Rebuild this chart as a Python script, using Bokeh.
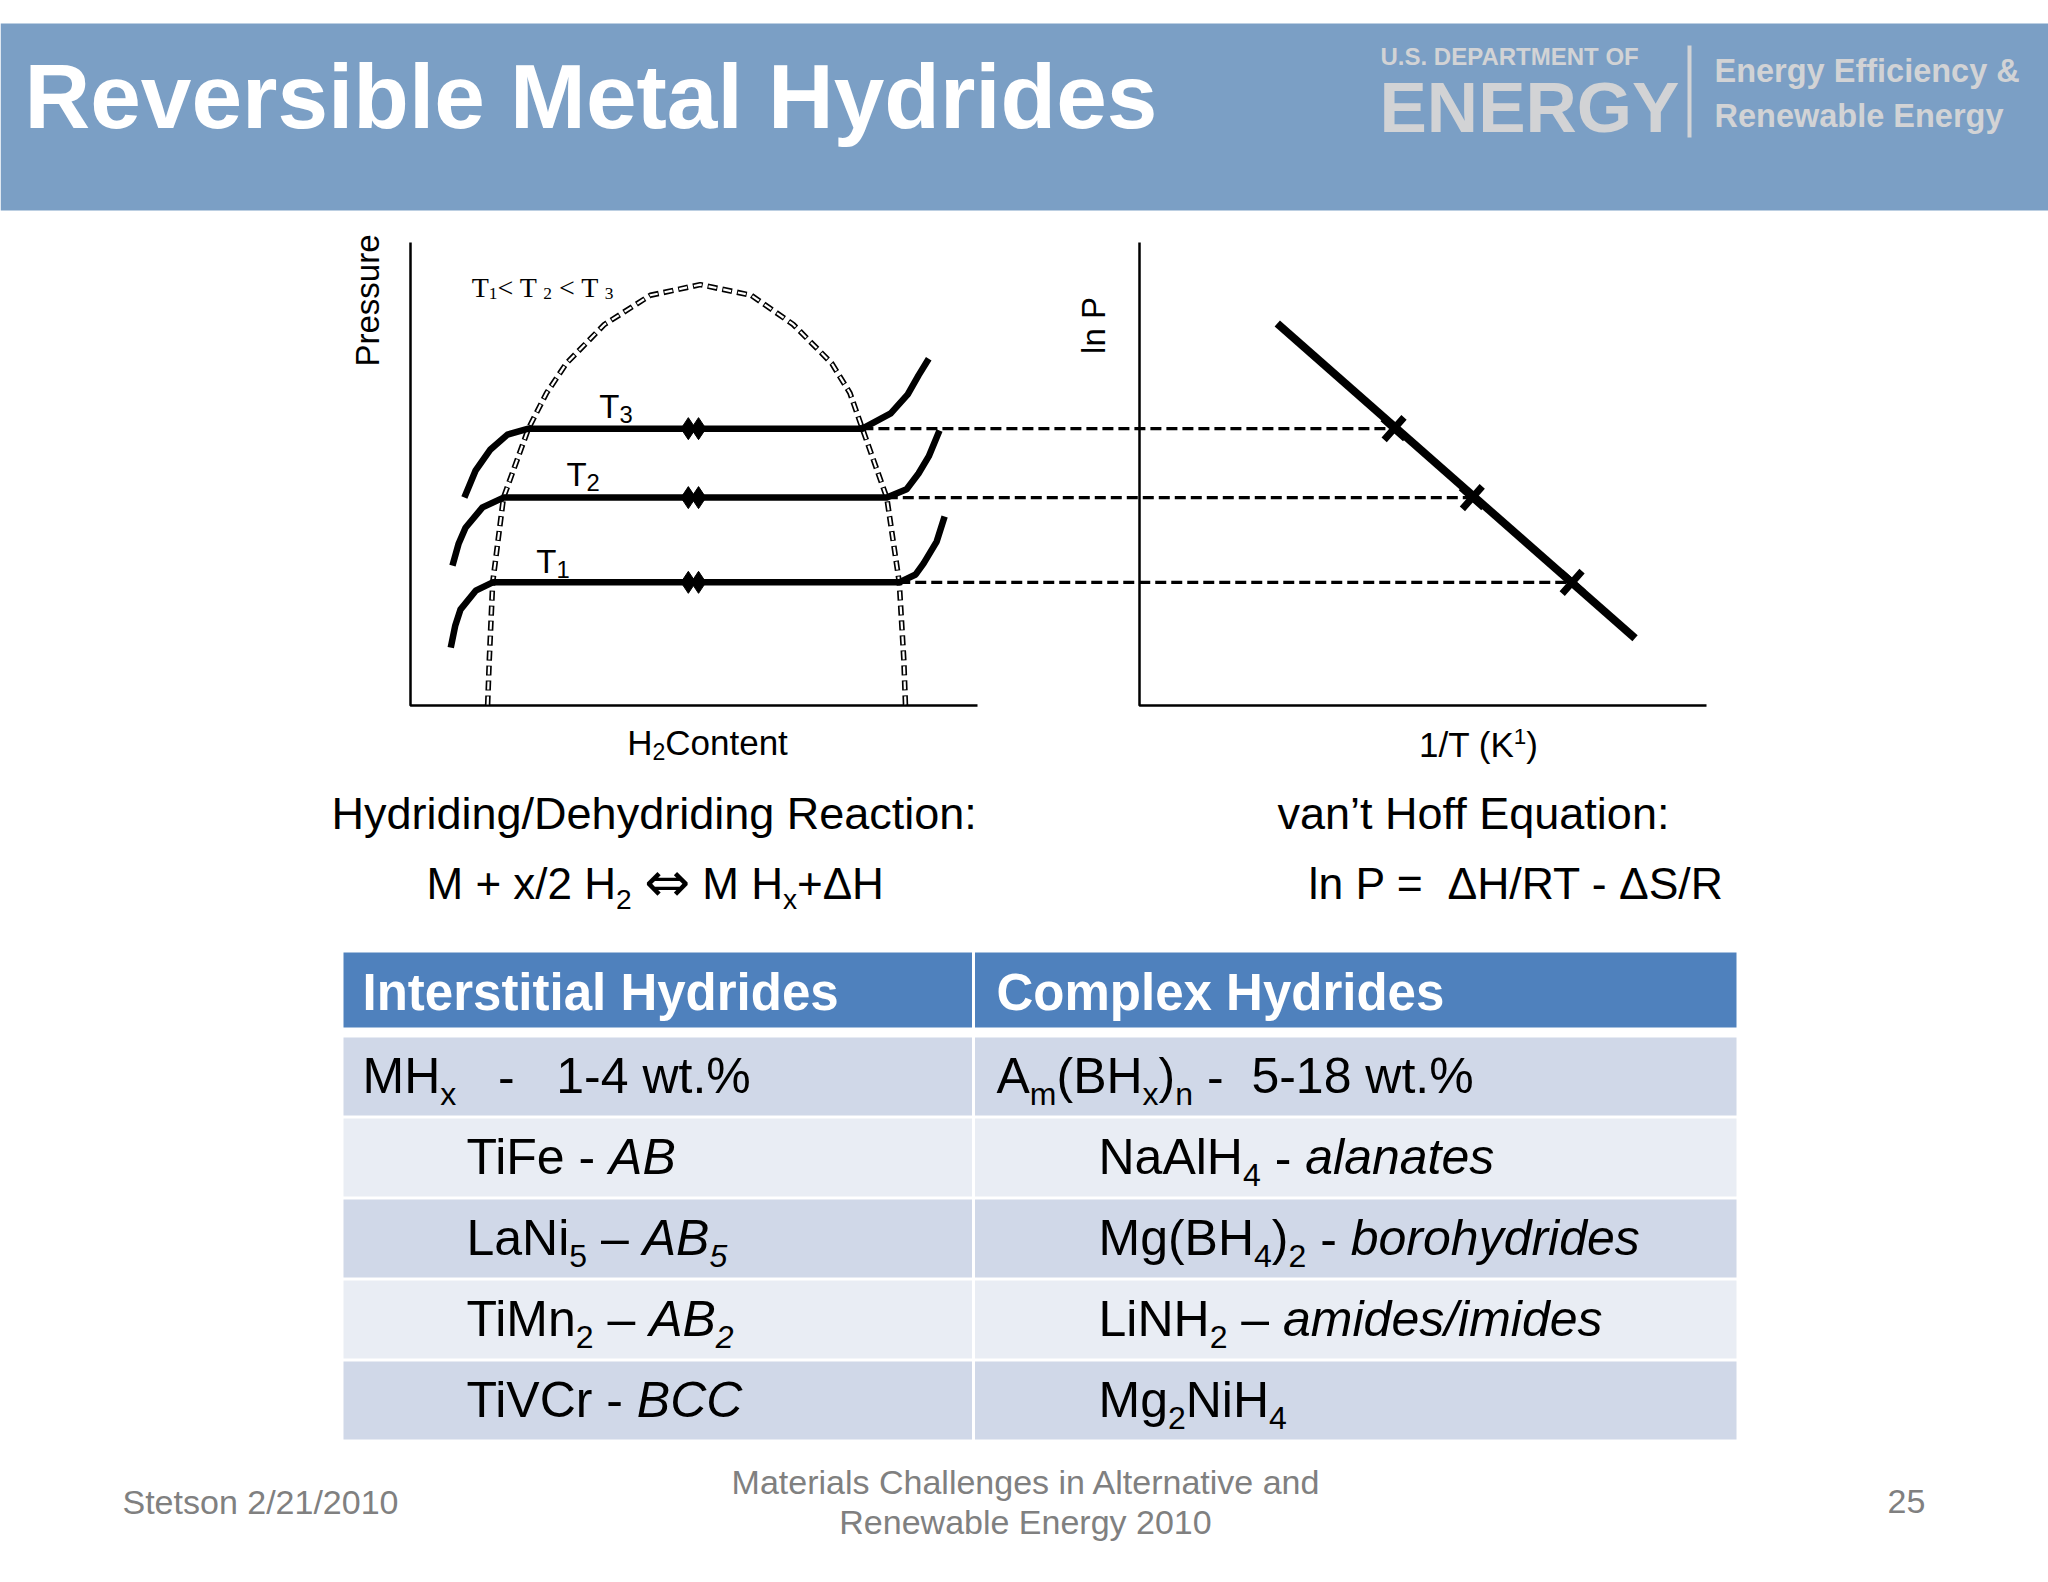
import glob, os, math
from functools import lru_cache
from bokeh.plotting import figure
from bokeh.models import Range1d
from bokeh.core.properties import value
from bokeh.embed import file_html
from bokeh.resources import INLINE

W, H = 2048, 1582

# ---------------- data: pressure-composition isotherms (schematic units 0..1) ----------------
iso_subscripts = ["1", "2", "3"]
plateau_p = [0.266, 0.449, 0.598]
plateau_end_c = [0.862, 0.840, 0.797]
iso_T1_c = [0.071, 0.079, 0.088, 0.115, 0.145, 0.862, 0.891, 0.905, 0.928, 0.942]
iso_T1_p = [0.125, 0.173, 0.207, 0.248, 0.266, 0.266, 0.283, 0.307, 0.354, 0.408]
iso_T2_c = [0.074, 0.085, 0.097, 0.127, 0.164, 0.840, 0.875, 0.896, 0.914, 0.933]
iso_T2_p = [0.302, 0.350, 0.384, 0.428, 0.449, 0.449, 0.467, 0.501, 0.538, 0.594]
iso_T3_c = [0.095, 0.115, 0.141, 0.171, 0.208, 0.797, 0.847, 0.877, 0.896, 0.914]
iso_T3_p = [0.449, 0.508, 0.553, 0.585, 0.598, 0.598, 0.631, 0.672, 0.713, 0.749]
dome_c = [0.136, 0.139, 0.145, 0.164, 0.208, 0.240, 0.275, 0.342, 0.423, 0.511,
          0.601, 0.675, 0.743, 0.775, 0.797, 0.840, 0.862, 0.870, 0.873]
dome_p = [0.000, 0.100, 0.266, 0.449, 0.598, 0.675, 0.739, 0.823, 0.886, 0.909,
          0.886, 0.823, 0.739, 0.675, 0.598, 0.449, 0.266, 0.100, 0.000]
midpoint_c = [0.490, 0.508]
iso_label_c = [0.222, 0.275, 0.333]
iso_label_p = [0.287, 0.475, 0.622]

# ---------------- data: van't Hoff plot ----------------
inv_T = [0.763, 0.587, 0.449]
vh_line_x = [0.243, 0.874]
vh_line_y = [0.825, 0.145]

# ---------------- data: table ----------------
table_headers = ["Interstitial Hydrides", "Complex Hydrides"]
interstitial_rows = [
    [("MH", "n"), ("x", "s"), ("   - ", "n"), ("  1-4 wt.%", "n")],
    [("TiFe - ", "n"), ("AB", "i")],
    [("LaNi", "n"), ("5", "s"), (" \u2013 ", "n"), ("AB", "i"), ("5", "is")],
    [("TiMn", "n"), ("2", "s"), (" \u2013 ", "n"), ("AB", "i"), ("2", "is")],
    [("TiVCr - ", "n"), ("BCC", "i")],
]
complex_rows = [
    [("A", "n"), ("m", "s"), ("(BH", "n"), ("x", "s"), (")", "n"), ("n", "s"), (" - ", "n"), (" 5-18 wt.%", "n")],
    [("NaAlH", "n"), ("4", "s"), (" - ", "n"), ("alanates", "i")],
    [("Mg(BH", "n"), ("4", "s"), (")", "n"), ("2", "s"), (" - ", "n"), ("borohydrides", "i")],
    [("LiNH", "n"), ("2", "s"), (" \u2013 ", "n"), ("amides/imides", "i")],
    [("Mg", "n"), ("2", "s"), ("NiH", "n"), ("4", "s")],
]
row_colors = ["#d0d8e8", "#e9edf4", "#d0d8e8", "#e9edf4", "#d0d8e8"]

# ---------------- text measuring ----------------
FONT_FILES = {
    ("Liberation Sans", "normal"): "LiberationSans-Regular.ttf",
    ("Liberation Sans", "bold"): "LiberationSans-Bold.ttf",
    ("Liberation Sans", "italic"): "LiberationSans-Italic.ttf",
    ("Liberation Serif", "normal"): "LiberationSerif-Regular.ttf",
    ("DejaVu Sans", "normal"): "DejaVuSans.ttf",
}
BASE_FIX = 0.345  # empirical baseline correction for the svg text renderer


@lru_cache(None)
def _font_path(fname):
    for root in ["/usr/share/fonts", "/usr/local/share/fonts", os.path.expanduser("~/.fonts"),
                 os.path.expanduser("~/.local/share/fonts")]:
        hits = glob.glob(os.path.join(root, "**", fname), recursive=True)
        if hits:
            return hits[0]
    return None


@lru_cache(None)
def _pil_font(family, style, size4):
    try:
        from PIL import ImageFont
        path = _font_path(FONT_FILES.get((family, style), "LiberationSans-Regular.ttf"))
        if path:
            return ImageFont.truetype(path, size4)
    except Exception:
        pass
    return None


def text_width(s, family, style, size):
    f = _pil_font(family, style, int(round(size * 4)))
    if f is not None:
        return f.getlength(s) / 4.0
    return len(s) * 0.55 * size


# ---------------- figure ----------------
p = figure(width=W, height=H, x_range=Range1d(0, W), y_range=Range1d(H, 0),
           output_backend="svg", toolbar_location=None, min_border=0,
           x_axis_location=None, y_axis_location=None)
p.grid.visible = False
p.outline_line_color = None
p.background_fill_color = "white"
p.border_fill_color = "white"

# diagram coordinate systems (axis box 0..1 on each diagram)
PC_X0, VH_X0, AX_LEN = 410.0, 1139.0, 567.0
P_Y0, P_LEN = 705.0, 463.0
p.extra_x_ranges = {
    "pc": Range1d(-PC_X0 / AX_LEN, (W - PC_X0) / AX_LEN),
    "vh": Range1d(-VH_X0 / AX_LEN, (W - VH_X0) / AX_LEN),
}
p.extra_y_ranges = {"p": Range1d((P_Y0 - H) / P_LEN, P_Y0 / P_LEN)}


def conv_x(v, src, dst):
    rs, rd = p.extra_x_ranges[src], p.extra_x_ranges[dst]
    px = (v - rs.start) / (rs.end - rs.start)
    return rd.start + px * (rd.end - rd.start)


def draw_runs(runs, x, y, size, color="black", family="Liberation Sans", bold=False,
              align="left", angle=0.0, xr="default", yr="default", sub_scale=0.64,
              sub_drop=0.24, sup_rise=0.36, big_scale=1.25):
    """Draw rich text runs; x,y in the given ranges, offsets computed in pixels."""
    pieces = []
    cx = 0.0
    for t, kind in runs:
        fam = family
        style = "bold" if bold else "normal"
        fs = size
        dy = 0.0
        if kind in ("i", "is"):
            style = "italic"
        if kind in ("s", "is"):
            fs = size * sub_scale
            dy = size * sub_drop
        if kind == "^":
            fs = size * sub_scale
            dy = -size * sup_rise
        if kind == "D":
            fam = "DejaVu Sans"
            style = "normal"
            fs = size * big_scale
            dy = size * 0.05
        lead = len(t) - len(t.lstrip(" "))
        core = t.strip(" ")
        mstyle = style if (fam, style) in FONT_FILES else "normal"
        off = text_width(" " * lead, fam, mstyle, fs) if lead else 0.0
        if core:
            pieces.append((core, cx + off, dy - BASE_FIX * fs, fam, style, fs))
        cx += text_width(t, fam, mstyle, fs)
    shift = 0.0
    if align == "center":
        shift = -cx / 2.0
    elif align == "right":
        shift = -cx
    ca, sa = math.cos(angle), math.sin(angle)
    for core, ox, dy, fam, style, fs in pieces:
        ox += shift
        # pixel offset in the text's own frame (screen, y down), rotated CCW on screen
        sx = ox * ca + dy * sa
        sy = -ox * sa + dy * ca
        X = x + sx if xr == "default" else x + sx / AX_LEN
        Y = y + sy if yr == "default" else y - sy / P_LEN
        p.text(x=[X], y=[Y], text=[core], text_font=value(fam), text_font_style=style,
               text_font_size=f"{fs:.1f}px", text_color=color, text_align="left",
               text_baseline="alphabetic", angle=angle,
               x_range_name=xr, y_range_name=yr)


# ---------------- header band ----------------
p.quad(left=[0], right=[W], top=[23], bottom=[210], fill_color="#7b9fc5", line_color=None)
draw_runs([("Reversible Metal Hydrides", "n")], 24, 127, 91, color="white", bold=True)
LOGO = "#d2d3d5"
draw_runs([("U.S. DEPARTMENT OF", "n")], 1380, 64, 24, color=LOGO, bold=True)
draw_runs([("ENERGY", "n")], 1379, 131, 71, color=LOGO, bold=True)
p.line([1689, 1689], [45, 137], line_color=LOGO, line_width=4)
draw_runs([("Energy Efficiency &", "n")], 1714, 82, 32.5, color=LOGO, bold=True)
draw_runs([("Renewable Energy", "n")], 1714, 127, 32.5, color=LOGO, bold=True)

# ---------------- left diagram: P-C isotherms ----------------
PC = dict(x_range_name="pc", y_range_name="p")
p.line([0, 0, 1], [1, 0, 0], line_color="black", line_width=2.5, **PC)

# connectors to van't Hoff points
for c_end, pp, it in zip(plateau_end_c, plateau_p, inv_T):
    p.line([conv_x(c_end, "pc", "vh"), it], [pp, pp], line_color="black", line_width=3.2,
           line_dash="11 5", x_range_name="vh", y_range_name="p")

# two-phase dome (hollow dashes)
p.line(dome_c, dome_p, line_color="black", line_width=5.5, line_dash="10 5", **PC)
p.line(dome_c, dome_p, line_color="white", line_width=2.2, line_dash="8 7",
       line_dash_offset=-1, **PC)

for cs, ps in [(iso_T1_c, iso_T1_p), (iso_T2_c, iso_T2_p), (iso_T3_c, iso_T3_p)]:
    p.line(cs, ps, line_color="black", line_width=6.5, line_join="round", **PC)

for pp in plateau_p:
    p.scatter(midpoint_c, [pp, pp], marker="diamond", size=22, fill_color="black",
              line_color="black", **PC)

for sub, lc, lp in zip(iso_subscripts, iso_label_c, iso_label_p):
    draw_runs([("T", "n"), (sub, "s")], lc, lp, 33, xr="pc", yr="p", sub_scale=0.72, sub_drop=0.16)

draw_runs([("T", "n"), ("1", "s"), ("< T ", "n"), ("2", "s"), (" < T ", "n"), ("3", "s")],
          0.108, (P_Y0 - 297) / P_LEN, 28, family="Liberation Serif", xr="pc", yr="p",
          sub_scale=0.62, sub_drop=0.06)

draw_runs([("Pressure", "n")], 378, 300, 33, align="center", angle=math.pi / 2)
draw_runs([("H", "n"), ("2", "s"), ("Content", "n")], 707, 754, 35, align="center",
          sub_scale=0.66, sub_drop=0.14)

# ---------------- right diagram: van't Hoff ----------------
VH = dict(x_range_name="vh", y_range_name="p")
p.line([0, 0, 1], [1, 0, 0], line_color="black", line_width=2.5, **VH)
p.line(vh_line_x, vh_line_y, line_color="black", line_width=8, **VH)
p.scatter(inv_T, plateau_p, marker="cross", size=30, line_color="black", line_width=7,
          angle=-41.4, angle_units="deg", **VH)
draw_runs([("ln P", "n")], 1104, 325, 33, align="center", angle=math.pi / 2)
draw_runs([("1/T (K", "n"), ("1", "^"), (")", "n")], 1478, 756, 35, align="center")

# ---------------- equations ----------------
draw_runs([("Hydriding/Dehydriding Reaction:", "n")], 331, 829, 45)
draw_runs([("M + x/2 H", "n"), ("2", "s"), (" ", "n"), ("\u21d4", "D"), (" M H", "n"), ("x", "s"),
           ("+\u0394H", "n")], 426, 898, 44)
draw_runs([("van\u2019t Hoff Equation:", "n")], 1277, 829, 45)
draw_runs([("ln P = ", "n"), (" \u0394H/RT - \u0394S/R", "n")], 1308, 898, 44.5)

# ---------------- table ----------------
col_left = [343, 974.5]
col_right = [971.5, 1736]
p.quad(left=col_left, right=col_right, top=[952, 952], bottom=[1027, 1027],
       fill_color="#4f81bd", line_color=None)
row_top0, row_pitch, row_h = 1037, 81, 78
tops = [row_top0 + i * row_pitch for i in range(len(interstitial_rows))]
for i, t in enumerate(tops):
    p.quad(left=col_left, right=col_right, top=[t, t], bottom=[t + row_h, t + row_h],
           fill_color=row_colors[i], line_color=None)

draw_runs([(table_headers[0], "n")], 362, 1010, 51, color="white", bold=True)
draw_runs([(table_headers[1], "n")], 996, 1010, 51, color="white", bold=True)
for i, t in enumerate(tops):
    xl = 362 if i == 0 else 466
    xr_ = 996 if i == 0 else 1098
    draw_runs(interstitial_rows[i], xl, t + 56, 50, sub_scale=0.64, sub_drop=0.24)
    draw_runs(complex_rows[i], xr_, t + 56, 50, sub_scale=0.64, sub_drop=0.24)

# ---------------- footer ----------------
FOOT = "#808080"
draw_runs([("Stetson 2/21/2010", "n")], 122, 1513, 34, color=FOOT)
draw_runs([("Materials Challenges in Alternative and", "n")], 1025, 1493, 34, color=FOOT, align="center")
draw_runs([("Renewable Energy 2010", "n")], 1025, 1533, 34, color=FOOT, align="center")
draw_runs([("25", "n")], 1906, 1513, 34, color=FOOT, align="center")

open("out.html", "w").write(file_html(p, INLINE))
